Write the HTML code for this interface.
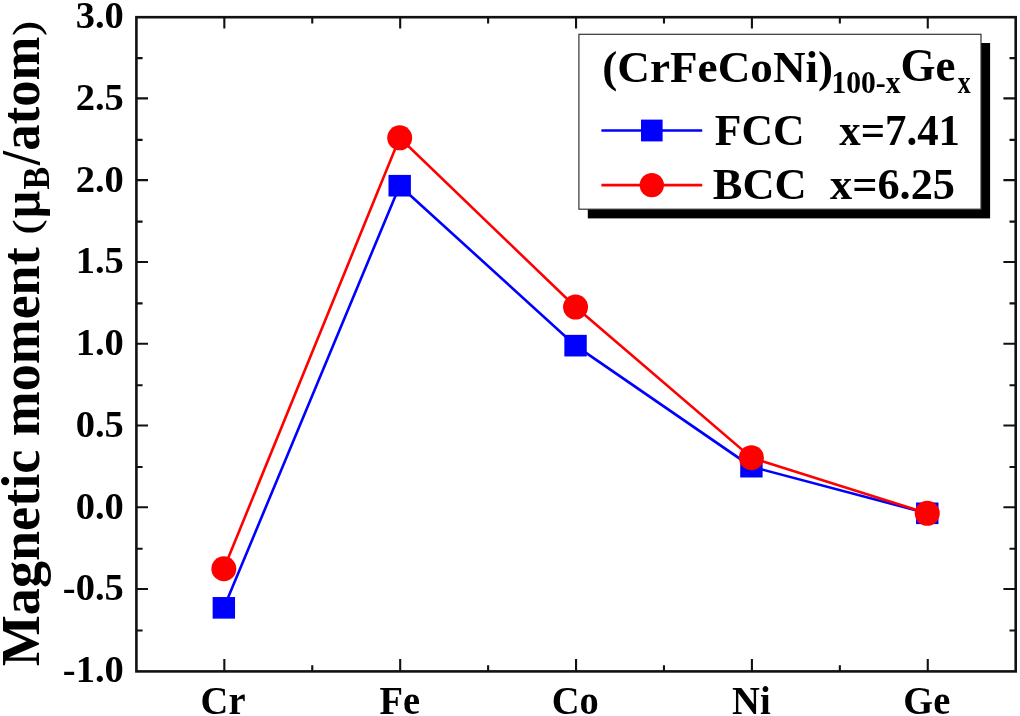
<!DOCTYPE html><html><head><meta charset="utf-8"><title>Magnetic moment</title>
<style>html,body{margin:0;padding:0;background:#fff;}body{width:1020px;height:716px;overflow:hidden;}svg{display:block;}text{font-family:"Liberation Serif","Times New Roman",serif;font-weight:bold;fill:#000;}</style></head><body>
<svg width="1020" height="716" viewBox="0 0 1020 716">
<rect width="1020" height="716" fill="#fff"/>
<rect x="136.4" y="17.2" width="879.30" height="654.20" fill="none" stroke="#111" stroke-width="2.6"/>
<path d="M136.40 630.51L142.60 630.51M1015.70 630.51L1009.50 630.51M136.40 589.02L148.00 589.02M1015.70 589.02L1003.40 589.02M136.40 548.74L142.60 548.74M1015.70 548.74L1009.50 548.74M136.40 507.25L148.00 507.25M1015.70 507.25L1003.40 507.25M136.40 466.96L142.60 466.96M1015.70 466.96L1009.50 466.96M136.40 425.47L148.00 425.47M1015.70 425.47L1003.40 425.47M136.40 385.19L142.60 385.19M1015.70 385.19L1009.50 385.19M136.40 343.70L148.00 343.70M1015.70 343.70L1003.40 343.70M136.40 303.41L142.60 303.41M1015.70 303.41L1009.50 303.41M136.40 261.93L148.00 261.93M1015.70 261.93L1003.40 261.93M136.40 221.64L142.60 221.64M1015.70 221.64L1009.50 221.64M136.40 180.15L148.00 180.15M1015.70 180.15L1003.40 180.15M136.40 139.86L142.60 139.86M1015.70 139.86L1009.50 139.86M136.40 98.38L148.00 98.38M1015.70 98.38L1003.40 98.38M136.40 58.09L142.60 58.09M1015.70 58.09L1009.50 58.09M224.33 671.40L224.33 659.10M224.33 17.20L224.33 28.50M312.26 671.40L312.26 665.20M312.26 17.20L312.26 23.40M400.19 671.40L400.19 659.10M400.19 17.20L400.19 28.50M488.12 671.40L488.12 665.20M488.12 17.20L488.12 23.40M576.05 671.40L576.05 659.10M576.05 17.20L576.05 28.50M663.98 671.40L663.98 665.20M663.98 17.20L663.98 23.40M751.91 671.40L751.91 659.10M751.91 17.20L751.91 28.50M839.84 671.40L839.84 665.20M839.84 17.20L839.84 23.40M927.77 671.40L927.77 659.10M927.77 17.20L927.77 28.50" stroke="#111" stroke-width="2.1" fill="none"/>
<rect x="587.8" y="43" width="402.3" height="175.4" fill="#000"/>
<rect x="578.9" y="34.3" width="402.1" height="174.9" fill="#fff" stroke="#333" stroke-width="1.2"/>
<path d="M601.4 130.5H702.2" stroke="#0000ff" stroke-width="2.6"/><rect x="641.0" y="119.6" width="21.6" height="21.8" fill="#0000ff"/>
<path d="M601.4 185.1H702.2" stroke="#ff0000" stroke-width="2.6"/><circle cx="651.8" cy="185.1" r="12.2" fill="#ff0000"/>
<text transform="rotate(-90)"><tspan x="-666.35" y="39.30" font-size="54.5" textLength="216.64" lengthAdjust="spacingAndGlyphs">Magnetic</tspan> <tspan x="-436.34" y="39.30" font-size="54.5" textLength="188.96" lengthAdjust="spacingAndGlyphs">moment</tspan> <tspan x="-236.64" y="40.80" font-size="38" style="font-weight:normal;font-family:'DejaVu Serif',serif" textLength="19.19" lengthAdjust="spacingAndGlyphs">(</tspan><tspan x="-217.90" y="39.30" font-size="52.5" textLength="27.11" lengthAdjust="spacingAndGlyphs">μ</tspan><tspan x="-189.43" y="49.00" font-size="38.5" textLength="22.73" lengthAdjust="spacingAndGlyphs">B</tspan><tspan x="-165.01" y="39.30" font-size="54.5" textLength="14.05" lengthAdjust="spacingAndGlyphs">/</tspan><tspan x="-150.65" y="39.30" font-size="54.5" textLength="114.10" lengthAdjust="spacingAndGlyphs">atom</tspan><tspan x="-38.08" y="40.80" font-size="38" style="font-weight:normal;font-family:'DejaVu Serif',serif" textLength="19.19" lengthAdjust="spacingAndGlyphs">)</tspan></text>
<text><tspan x="602.29" y="81.50" font-size="45" textLength="230.84" lengthAdjust="spacingAndGlyphs">(CrFeCoNi)</tspan><tspan x="831.49" y="92.70" font-size="30.5" textLength="69.01" lengthAdjust="spacingAndGlyphs">100-x</tspan><tspan x="900.59" y="81.20" font-size="46.5" textLength="55.00" lengthAdjust="spacingAndGlyphs">Ge</tspan><tspan x="957.70" y="92.70" font-size="30.5" textLength="12.90" lengthAdjust="spacingAndGlyphs">x</tspan></text>
<text><tspan x="714.82" y="145.20" font-size="44" textLength="89.66" lengthAdjust="spacingAndGlyphs">FCC</tspan> <tspan x="839.30" y="145.20" font-size="44" textLength="120.71" lengthAdjust="spacingAndGlyphs">x=7.41</tspan></text>
<text><tspan x="712.81" y="199.00" font-size="44" textLength="93.82" lengthAdjust="spacingAndGlyphs">BCC</tspan> <tspan x="830.00" y="199.00" font-size="44" textLength="124.99" lengthAdjust="spacingAndGlyphs">x=6.25</tspan></text>
<text x="75.68" y="28.00" font-size="38.5">3.0</text>
<text x="75.68" y="109.78" font-size="38.5">2.5</text>
<text x="75.68" y="191.55" font-size="38.5">2.0</text>
<text x="75.68" y="273.33" font-size="38.5">1.5</text>
<text x="75.68" y="355.10" font-size="38.5">1.0</text>
<text x="75.68" y="436.88" font-size="38.5">0.5</text>
<text x="75.68" y="518.65" font-size="38.5">0.0</text>
<text x="62.86" y="600.42" font-size="38.5">-0.5</text>
<text x="62.86" y="682.20" font-size="38.5">-1.0</text>
<text x="200.60" y="714" font-size="41" textLength="44.89" lengthAdjust="spacingAndGlyphs">Cr</text>
<text x="379.51" y="714" font-size="41" textLength="40.61" lengthAdjust="spacingAndGlyphs">Fe</text>
<text x="551.72" y="714" font-size="41" textLength="47.05" lengthAdjust="spacingAndGlyphs">Co</text>
<text x="732.09" y="714" font-size="41" textLength="38.50" lengthAdjust="spacingAndGlyphs">Ni</text>
<text x="903.27" y="714" font-size="41" textLength="47.03" lengthAdjust="spacingAndGlyphs">Ge</text>
<polyline points="223.83,607.83 399.69,185.71 575.55,345.66 751.41,466.69 927.27,513.30" fill="none" stroke="#0000ff" stroke-width="2.6"/>
<rect x="212.63" y="597.03" width="22.4" height="21.6" fill="#0000ff"/>
<rect x="388.49" y="174.91" width="22.4" height="21.6" fill="#0000ff"/>
<rect x="564.35" y="334.86" width="22.4" height="21.6" fill="#0000ff"/>
<rect x="740.21" y="455.89" width="22.4" height="21.6" fill="#0000ff"/>
<rect x="916.07" y="502.50" width="22.4" height="21.6" fill="#0000ff"/>
<polyline points="223.83,568.74 399.69,137.79 575.55,307.06 751.41,457.69 927.27,513.30" fill="none" stroke="#ff0000" stroke-width="2.6"/>
<circle cx="223.83" cy="568.74" r="12.5" fill="#ff0000"/>
<circle cx="399.69" cy="137.79" r="12.5" fill="#ff0000"/>
<circle cx="575.55" cy="307.06" r="12.5" fill="#ff0000"/>
<circle cx="751.41" cy="457.69" r="12.5" fill="#ff0000"/>
<circle cx="927.27" cy="513.30" r="12.5" fill="#ff0000"/>
</svg></body></html>
